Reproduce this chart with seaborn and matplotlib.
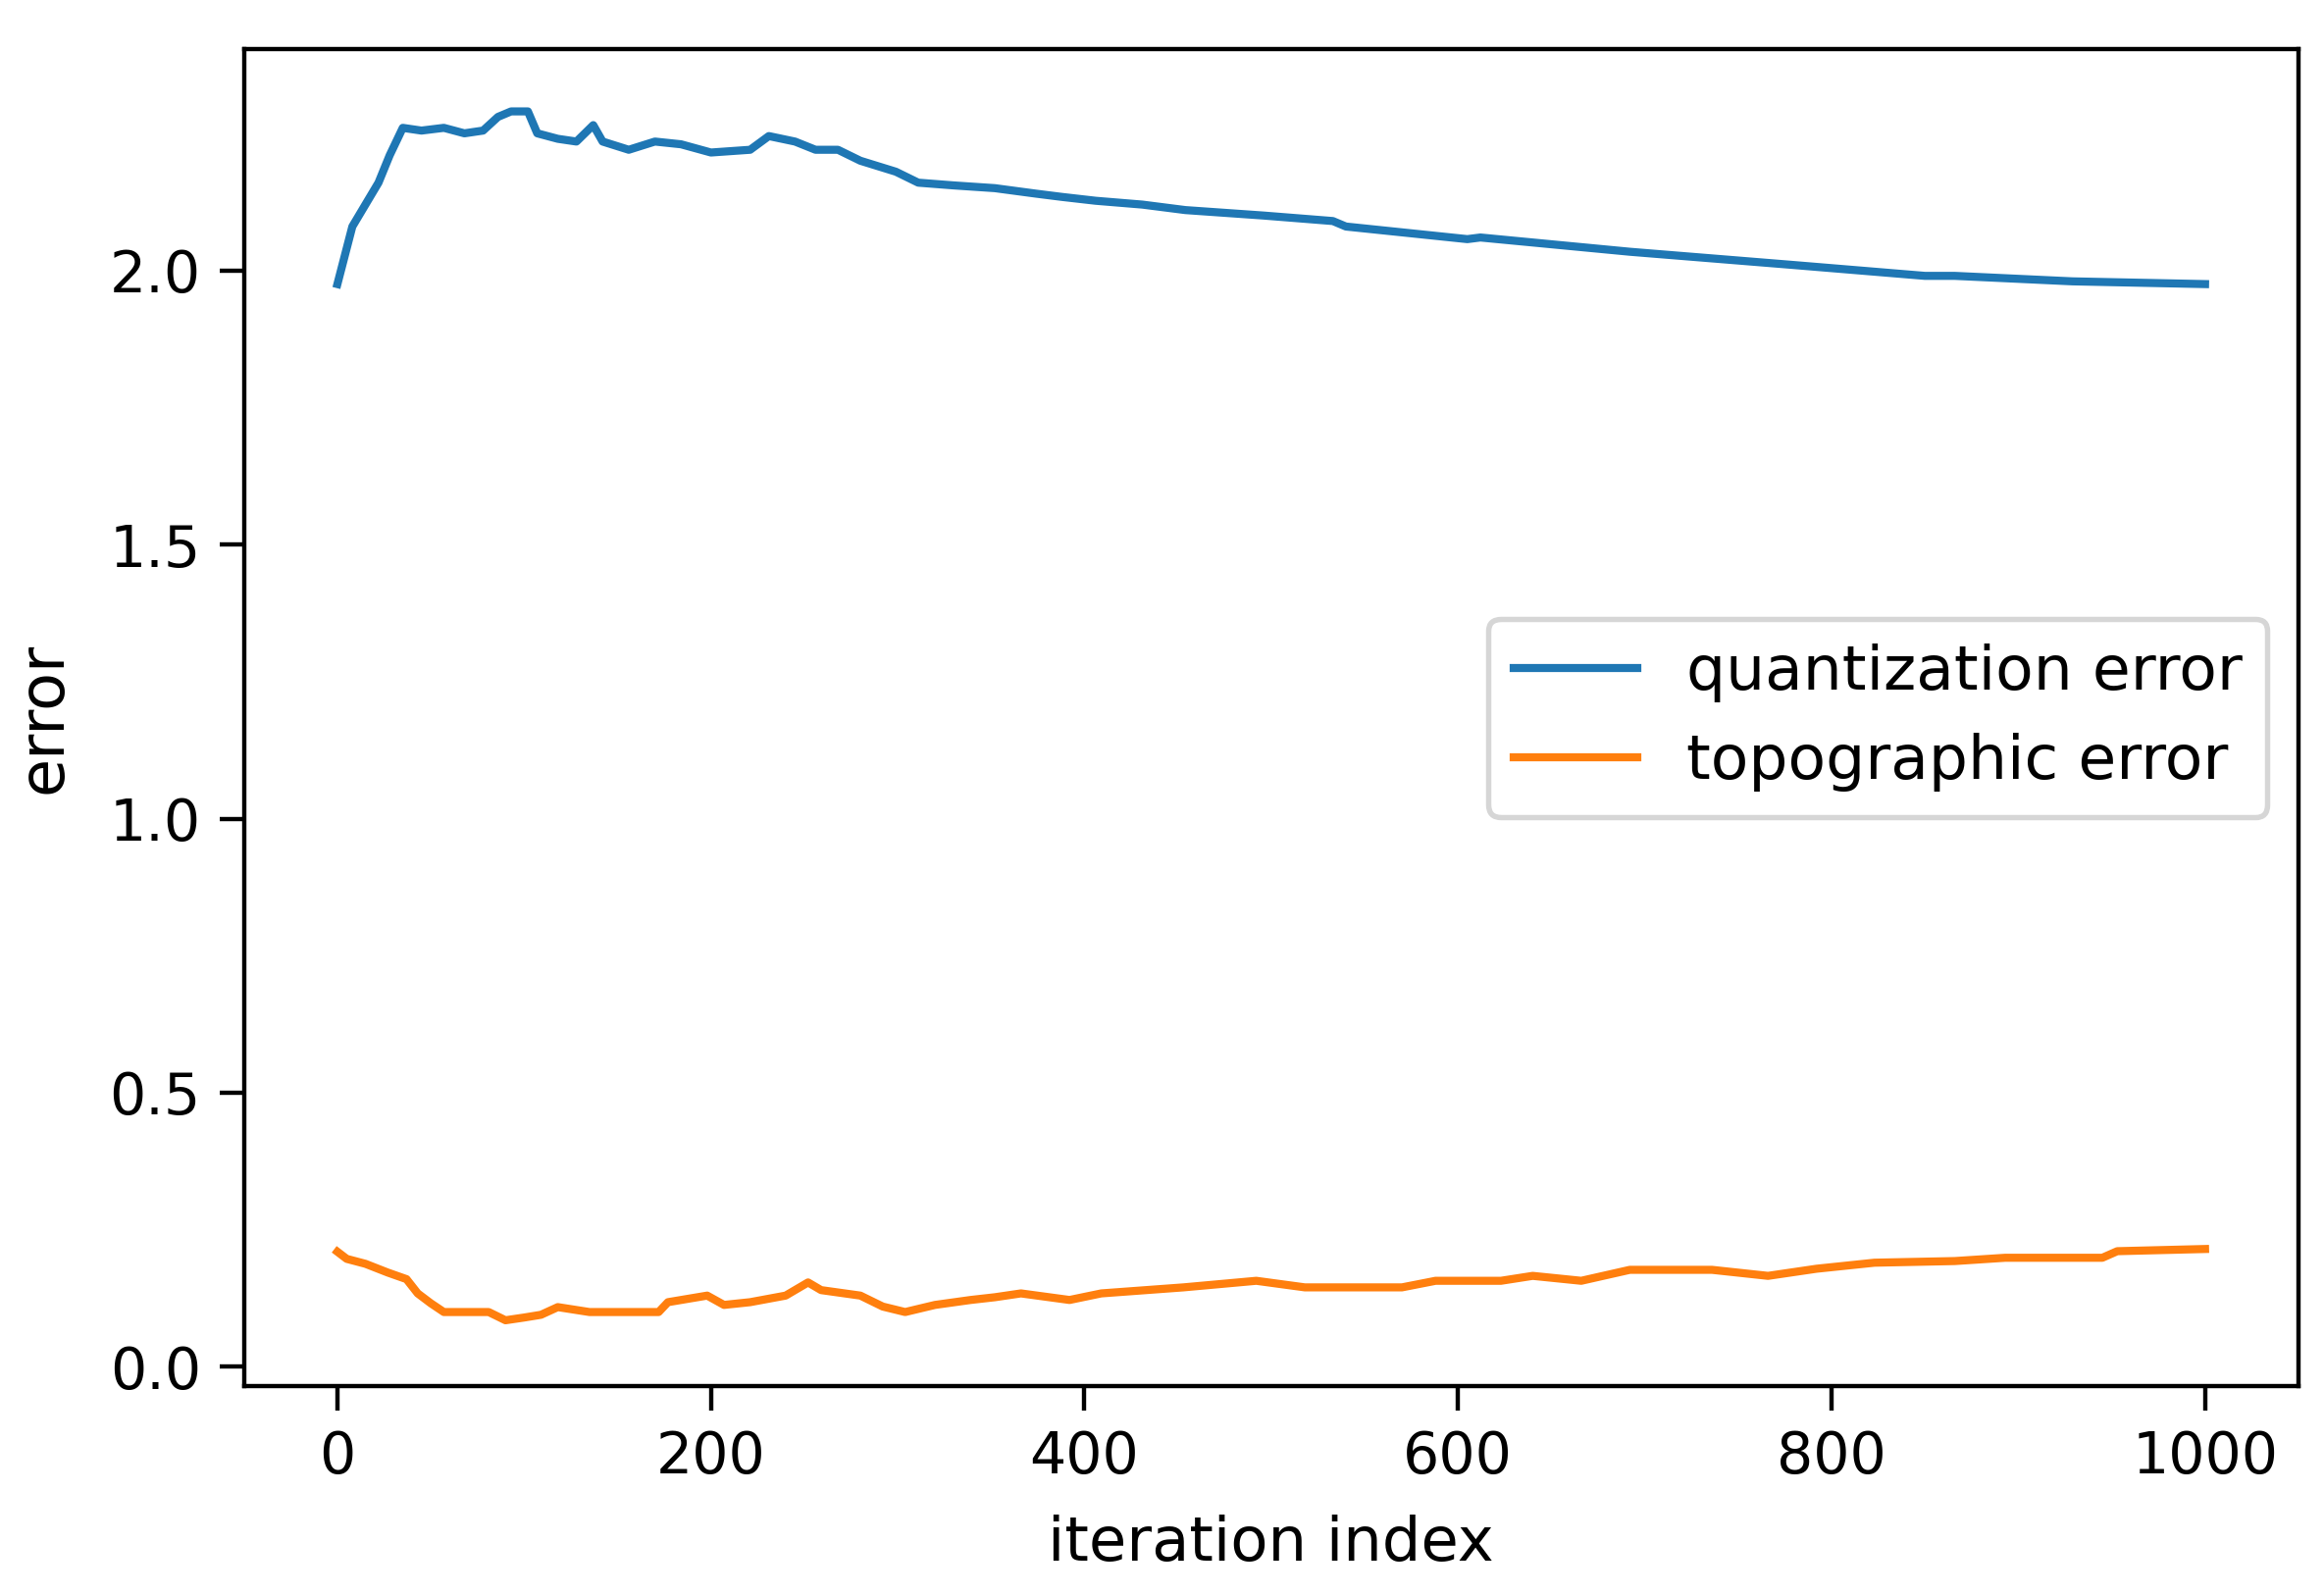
import pandas as pd
import matplotlib.pyplot as plt
import seaborn as sns

# ============================
# DATA
# ============================

qe_iter = [0, 8, 15, 22, 28, 35, 45, 57, 68, 78, 86, 93, 102, 107, 118, 128, 137, 142,
           156, 170, 184, 200, 221, 231, 245, 256, 268, 280, 299, 311, 330, 352, 374,
           388, 406, 431, 454, 496, 533, 540, 605, 612, 692, 779, 850, 866, 929, 1000]
qe_vals = [1.975, 2.08, 2.12, 2.16, 2.21, 2.26, 2.255, 2.26, 2.25, 2.255, 2.28, 2.29, 2.29,
           2.25, 2.24, 2.235, 2.265, 2.235, 2.22, 2.235, 2.23, 2.215, 2.22, 2.245, 2.235,
           2.22, 2.22, 2.20, 2.18, 2.16, 2.155, 2.15, 2.14, 2.134, 2.127, 2.12, 2.11,
           2.10, 2.09, 2.08, 2.057, 2.06, 2.034, 2.01, 1.99, 1.99, 1.98, 1.975]

te_iter = [0, 5, 15, 27, 37, 43, 50, 57, 70, 81, 90, 100, 109, 118, 135, 151, 172, 177,
           198, 207, 221, 240, 252, 259, 280, 292, 304, 320, 339, 352, 366, 392, 409,
           453, 492, 518, 570, 588, 623, 640, 666, 692, 736, 766, 792, 823, 866, 893,
           945, 953, 1000]
te_vals = [0.21, 0.197, 0.188, 0.172, 0.16, 0.134, 0.116, 0.10, 0.10, 0.10, 0.085, 0.09,
           0.095, 0.109, 0.10, 0.10, 0.10, 0.118, 0.13, 0.113, 0.118, 0.13, 0.154, 0.14,
           0.13, 0.11, 0.10, 0.113, 0.122, 0.127, 0.134, 0.122, 0.134, 0.145, 0.157,
           0.145, 0.145, 0.157, 0.157, 0.166, 0.157, 0.177, 0.177, 0.166, 0.179, 0.19,
           0.193, 0.199, 0.199, 0.211, 0.215]

qe_df = pd.DataFrame({"iteration": qe_iter, "error": qe_vals})
te_df = pd.DataFrame({"iteration": te_iter, "error": te_vals})

# ============================
# PLOT
# ============================

fig = plt.figure(figsize=(2369 / 395, 1626 / 395), dpi=395)
ax = fig.add_axes([0.105, 0.131, 0.884, 0.838])

sns.lineplot(data=qe_df, x="iteration", y="error", color="#1f77b4",
             linewidth=1.5, estimator=None, label="quantization error", ax=ax)
sns.lineplot(data=te_df, x="iteration", y="error", color="#ff7f0e",
             linewidth=1.5, estimator=None, label="topographic error", ax=ax)

ax.set_xlim(-50, 1050)
ax.set_ylim(-0.035, 2.403)
ax.set_xticks([0, 200, 400, 600, 800, 1000])
ax.set_yticks([0.0, 0.5, 1.0, 1.5, 2.0])
ax.tick_params(labelsize=10.7, length=4.5)
ax.set_xlabel("iteration index", fontsize=11.4, labelpad=5.5)
ax.set_ylabel("error", fontsize=11.6, labelpad=6.5)
ax.legend(loc="center right", frameon=True, fontsize=11.5)

fig.savefig("out.png", dpi=395)
